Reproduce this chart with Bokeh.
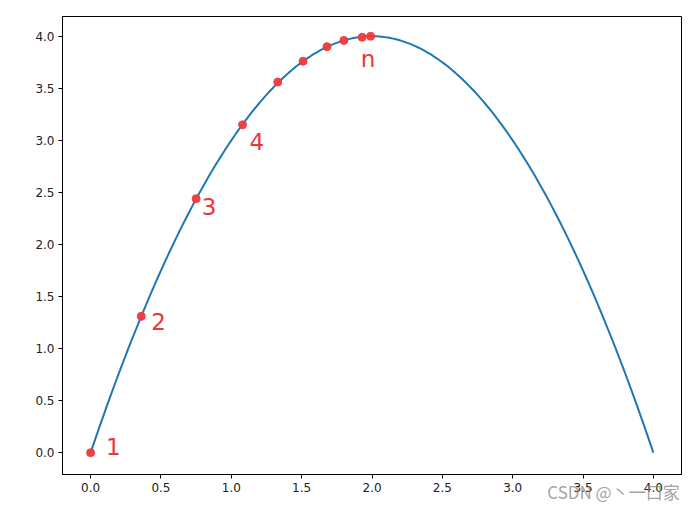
from bokeh.plotting import figure
from bokeh.models import FixedTicker, PrintfTickFormatter, Range1d, ColumnDataSource
from bokeh.core.properties import value
from bokeh.embed import file_html
from bokeh.resources import INLINE
import numpy as np

# data
curve_x = np.linspace(0, 4, 200)
curve_y = 4 * curve_x - curve_x ** 2
point_x = [0.0, 0.36, 0.75, 1.08, 1.33, 1.51, 1.68, 1.80, 1.93, 1.99]
point_y = [0.0, 1.31, 2.44, 3.15, 3.56, 3.76, 3.90, 3.96, 3.99, 4.0]
label_text = ["1", "2", "3", "4", "n"]
label_x = [0.11, 0.43, 0.79, 1.13, 1.92]
label_y = [0.06, 1.26, 2.36, 2.99, 3.78]
ticks = [0.0, 0.5, 1.0, 1.5, 2.0, 2.5, 3.0, 3.5, 4.0]
watermark = "CSDN @丶一口家"

p = figure(width=690, height=506, output_backend="svg", toolbar_location=None,
           x_range=Range1d(-0.2, 4.2), y_range=Range1d(-0.21, 4.19),
           min_border_left=62, min_border_top=16, min_border_right=9, min_border_bottom=28)
p.xgrid.visible = False
p.ygrid.visible = False
p.outline_line_color = "black"
p.outline_line_width = 1
p.background_fill_color = "white"
p.border_fill_color = "white"

for ax in (p.xaxis[0], p.yaxis[0]):
    ax.ticker = FixedTicker(ticks=ticks)
    ax.formatter = PrintfTickFormatter(format="%.1f")
    ax.major_tick_in = 0
    ax.major_tick_out = 4
    ax.minor_tick_line_color = None
    ax.axis_line_color = "black"
    ax.major_tick_line_color = "black"
    ax.major_label_text_font = "DejaVu Sans"
    ax.major_label_text_font_size = "12px"
    ax.major_label_text_color = "#222222"
    ax.major_label_standoff = 4

# watermark: the label is centred on the frame's right end, so pad it
# with ideographic spaces of equal width to make its visible part end there
xa = p.xaxis[0]
xa.axis_label = watermark + "\u3000" * 8
xa.axis_label_align = "end"
xa.axis_label_standoff = -16
xa.axis_label_text_font = "Noto Sans CJK SC"
xa.axis_label_text_font_size = "17px"
xa.axis_label_text_font_style = "normal"
xa.axis_label_text_color = "#8a8a8a"
xa.axis_label_text_alpha = 0.8

p.line(curve_x, curve_y, line_color="#1f77b4", line_width=2)
p.scatter(point_x, point_y, size=8, fill_color="#f03a3a", line_color="#f03a3a", alpha=0.95)

src = ColumnDataSource(dict(x=label_x, y=label_y, t=label_text))
p.text(x="x", y="y", text="t", source=src, text_color="#e8383d", text_font=value("DejaVu Sans"),
       text_font_size="23px", text_baseline="alphabetic", text_align="left")

open("out.html", "w").write(file_html(p, INLINE))
